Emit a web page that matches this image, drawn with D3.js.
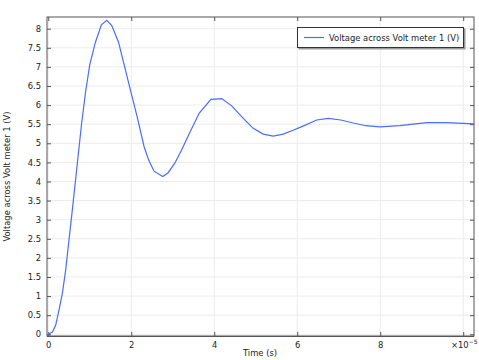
<!DOCTYPE html>
<html>
<head>
<meta charset="utf-8">
<title>Voltage across Volt meter 1</title>
<script src="https://d3js.org/d3.v7.min.js"></script>
<style>
  body { margin: 0; background: #fff; }
  svg { display: block; font-family: "DejaVu Sans", sans-serif; }
</style>
</head>
<body>
<div id="chart"></div>
<script>
// time in units of 1e-5 s
var timeVals = [0, 0.1, 0.18, 0.26, 0.34, 0.42, 0.5, 0.58, 0.68, 0.8, 0.9, 1.0, 1.13, 1.28, 1.41,
  1.53, 1.69, 1.81, 1.97, 2.13, 2.31, 2.42, 2.55, 2.76, 2.89, 3.05, 3.21, 3.42, 3.64, 3.92,
  4.18, 4.42, 4.7, 4.94, 5.18, 5.42, 5.66, 5.9, 6.14, 6.47, 6.75, 7.05, 7.35, 7.65, 7.99,
  8.47, 9.12, 9.6, 10.27];
var voltVals = [0, 0.06, 0.24, 0.64, 1.07, 1.68, 2.47, 3.25, 4.26, 5.48, 6.35, 7.05, 7.62, 8.1, 8.22,
  8.08, 7.66, 7.14, 6.44, 5.75, 4.91, 4.56, 4.27, 4.13, 4.23, 4.48, 4.82, 5.3, 5.79, 6.15,
  6.17, 5.98, 5.65, 5.39, 5.24, 5.19, 5.24, 5.34, 5.45, 5.61, 5.65, 5.61, 5.53, 5.46, 5.43,
  5.46, 5.54, 5.54, 5.51];
var xTicks = [0, 2, 4, 6, 8, 10];
var xTickLabels = ["0", "2", "4", "6", "8", ""];
var yTicks = d3.range(0, 8.01, 0.5);
var seriesName = "Voltage across Volt meter 1 (V)";

var W = 479, H = 360;
var plotL = 47, plotR = 474, plotT = 17, plotB = 336;
var fs = 8.4;

var svg = d3.select("#chart").append("svg")
  .attr("width", W).attr("height", H);

var x = d3.scaleLinear().domain([-0.03, 10.26]).range([plotL, plotR]);
var y = d3.scaleLinear().domain([-0.045, 8.306]).range([plotB, plotT]);

// grid
svg.append("g").selectAll("line").data(xTicks).enter().append("line")
  .attr("x1", d => x(d)).attr("x2", d => x(d))
  .attr("y1", plotT).attr("y2", plotB)
  .attr("stroke", "#ececec").attr("stroke-width", 1);
svg.append("g").selectAll("line").data(yTicks).enter().append("line")
  .attr("x1", plotL).attr("x2", plotR)
  .attr("y1", d => y(d)).attr("y2", d => y(d))
  .attr("stroke", "#ececec").attr("stroke-width", 1);

// axes, ticks pointing inward
var tickStyle = function(g) {
  g.select(".domain").remove();
  g.selectAll(".tick line").attr("stroke", "#555");
  g.selectAll(".tick text").attr("fill", "#222")
    .attr("font-family", "DejaVu Sans, sans-serif").attr("font-size", fs);
};

svg.append("g").attr("transform", "translate(0," + plotB + ")")
  .call(d3.axisBottom(x).tickValues(xTicks).tickSizeInner(-4).tickSizeOuter(0)
    .tickPadding(6).tickFormat((d, i) => xTickLabels[i]))
  .call(tickStyle);
svg.append("g").attr("transform", "translate(0," + plotT + ")")
  .call(d3.axisTop(x).tickValues(xTicks).tickSizeInner(-4).tickSizeOuter(0).tickFormat(""))
  .call(tickStyle);
svg.append("g").attr("transform", "translate(" + plotL + ",0)")
  .call(d3.axisLeft(y).tickValues(yTicks).tickSizeInner(-4).tickSizeOuter(0)
    .tickPadding(6).tickFormat(d3.format("~g")))
  .call(tickStyle);
svg.append("g").attr("transform", "translate(" + plotR + ",0)")
  .call(d3.axisRight(y).tickValues(yTicks).tickSizeInner(-4).tickSizeOuter(0).tickFormat(""))
  .call(tickStyle);

// frame
svg.append("rect")
  .attr("x", plotL).attr("y", plotT)
  .attr("width", plotR - plotL).attr("height", plotB - plotT)
  .attr("fill", "none").attr("stroke", "#555").attr("stroke-width", 1);
svg.append("line")
  .attr("x1", plotL).attr("x2", plotR).attr("y1", plotB + 0.5).attr("y2", plotB + 0.5)
  .attr("stroke", "#555").attr("stroke-width", 1);

// data line
var pts = timeVals.map((t, i) => [t, voltVals[i]]);
svg.append("path")
  .datum(pts)
  .attr("fill", "none")
  .attr("stroke", "#4a6cff")
  .attr("stroke-width", 1.2)
  .attr("d", d3.line().x(d => x(d[0])).y(d => y(d[1])));

// x exponent
var ex = svg.append("text")
  .attr("x", 451).attr("y", 348)
  .attr("fill", "#222").style("font-size", fs + "px");
ex.append("tspan").text("\u00d710");
ex.append("tspan").attr("dy", -4).style("font-size", "6px").text("\u22125");

// axis titles
svg.append("text")
  .attr("x", 260).attr("y", 356)
  .attr("text-anchor", "middle").attr("fill", "#222").style("font-size", fs + "px")
  .text("Time (s)");
svg.append("text")
  .attr("transform", "translate(10," + (plotT + plotB) / 2 + ") rotate(-90)")
  .attr("text-anchor", "middle").attr("fill", "#222").style("font-size", fs + "px")
  .text("Voltage across Volt meter 1 (V)");

// legend
var lg = svg.append("g");
lg.append("rect")
  .attr("x", 298.5).attr("y", 28.5).attr("width", 167).attr("height", 21)
  .attr("fill", "#999");
lg.append("rect")
  .attr("x", 297.5).attr("y", 27.5).attr("width", 166).attr("height", 20)
  .attr("fill", "#fff").attr("stroke", "#333").attr("stroke-width", 1);
lg.append("line")
  .attr("x1", 304).attr("x2", 324).attr("y1", 37.5).attr("y2", 37.5)
  .attr("stroke", "#4a6cff").attr("stroke-width", 1.2);
lg.append("text")
  .attr("x", 329).attr("y", 40.5)
  .attr("fill", "#222").style("font-size", fs + "px")
  .text(seriesName);
</script>
</body>
</html>
